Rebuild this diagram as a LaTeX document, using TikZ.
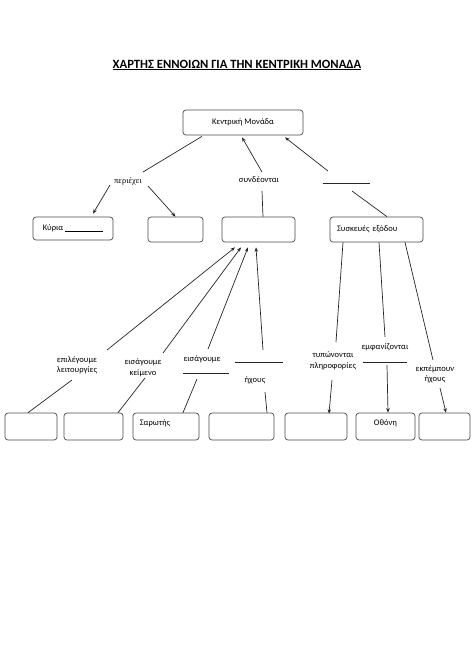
\documentclass[tikz,border=0pt]{standalone}
\usepackage{fontspec}
\setmainfont{Carlito}
\newfontfamily\serifgr{Liberation Serif}
\usetikzlibrary{arrows.meta}
\begin{document}
\begin{tikzpicture}[x=1pt,y=-1pt,
  box/.style={draw=black!70, rounded corners=3pt, line width=0.7pt, inner sep=0pt, font=\fontsize{8.5}{10}\selectfont},
  lbl/.style={font=\fontsize{8.5}{10.5}\selectfont, align=center, inner sep=0pt},
  blank/.style={inner sep=0pt, minimum height=0pt},
  conn/.style={draw=black!85, line width=0.7pt},
  arr/.style={conn, -{Stealth[length=4.5pt,width=3.5pt]}}]
\useasboundingbox[fill=white] (0,0) rectangle (474,670);

% title
\node[inner sep=0pt, font=\fontsize{12.6}{15}\selectfont\bfseries] (title) at (237,65) {\underline{ΧΑΡΤΗΣ ΕΝΝΟΙΩΝ ΓΙΑ ΤΗΝ ΚΕΝΤΡΙΚΗ ΜΟΝΑΔΑ}};

% top box
\node[box, minimum width=120, minimum height=25] (km) at (243,122.5) {Κεντρική Μονάδα};

% level labels
\node[lbl, font=\fontsize{8.5}{10}\selectfont\serifgr] (per) at (128,181) {περιέχει};
\node[lbl] (syn) at (259,180) {συνδέονται};
\node[blank, minimum width=47] (bl1) at (346.5,183) {};
\draw[conn] (bl1.west) -- (bl1.east);

% row 2 boxes
\node[box, minimum width=80, minimum height=23] (kyr) at (73,228.5) {Κύρια \rule[-0.5pt]{38pt}{0.5pt}};
\node[box, minimum width=55, minimum height=25] (b2) at (175.5,229.5) {};
\node[box, minimum width=73, minimum height=25] (b3) at (258.5,229.5) {};
\node[box, minimum width=93, minimum height=25, text width=79, align=left] (sys) at (376.5,229.5) {Συσκευές εξόδου};

% top connectors
\draw[conn] ([shift={(-41,1)}]km.south) -- ([shift={(15,-9)}]per.center);
\draw[arr] ([shift={(-18,4)}]per.center) -- ([shift={(20,-3)}]kyr.north);
\draw[arr] ([shift={(20,5)}]per.center) -- ([shift={(0,0)}]b2.north);
\draw[arr] ([shift={(3,-8)}]syn.center) -- ([shift={(-1,2)}]km.south);
\draw[conn] ([shift={(3,11)}]syn.center) -- ([shift={(4.5,0)}]b3.north);
\draw[arr] ([shift={(-18.5,-12)}]bl1.center) -- ([shift={(42,2)}]km.south);
\draw[conn] ([shift={(5.5,8)}]bl1.center) -- ([shift={(10.5,0)}]sys.north);

% lower labels
\node[lbl] (epi) at (77,365) {επιλέγουμε\\λειτουργίες};
\node[lbl] (kei) at (143,367.5) {εισάγουμε\\κείμενο};
\node[lbl] (eis) at (202,359) {εισάγουμε};
\node[blank, minimum width=46] (bl3) at (206,373) {};
\draw[conn] (bl3.west) -- (bl3.east);
\node[blank, minimum width=48] (bl2) at (259,362) {};
\draw[conn] (bl2.west) -- (bl2.east);
\node[lbl] (ich) at (255,380) {ήχους};
\node[lbl] (typ) at (333,360.5) {τυπώνονται\\πληροφορίες};
\node[lbl] (emf) at (385,347) {εμφανίζονται};
\node[blank, minimum width=44] (bl4) at (385,362) {};
\draw[conn] (bl4.west) -- (bl4.east);
\node[lbl] (ekp) at (435,374) {εκπέμπουν\\ήχους};

% row 3 boxes
\node[box, minimum width=52, minimum height=27] (c1) at (31,426.5) {};
\node[box, minimum width=59, minimum height=27] (c2) at (93.5,426.5) {};
\node[box, minimum width=66, minimum height=27] (c3) at (166,426.5) {};
\node[lbl, anchor=west] (c3t) at ([shift={(7,-3.5)}]c3.west) {Σαρωτής};
\node[box, minimum width=65, minimum height=27] (c4) at (241.5,426.5) {};
\node[box, minimum width=62, minimum height=27] (c5) at (316,426.5) {};
\node[box, minimum width=59, minimum height=27] (c6) at (385.5,426.5) {};
\node[lbl] (c6t) at ([shift={(0,-3.5)}]c6.center) {Οθόνη};
\node[box, minimum width=51, minimum height=27] (c7) at (444.5,426.5) {};

% arrows into b3
\draw[arr] ([shift={(30,-15)}]epi.center) -- ([shift={(-23.5,5)}]b3.south);
\draw[arr] ([shift={(20,-14.5)}]kei.center) -- ([shift={(-17.5,5)}]b3.south);
\draw[arr] ([shift={(6,-10)}]eis.center) -- ([shift={(-10.5,5)}]b3.south);
\draw[arr] ([shift={(4,-12)}]bl2.center) -- ([shift={(-2.5,5)}]b3.south);

% lines down to row 3 (left)
\draw[conn] ([shift={(-5,15)}]epi.center) -- ([shift={(-3,0)}]c1.north);
\draw[conn] ([shift={(2,10.5)}]kei.center) -- ([shift={(24.5,0)}]c2.north);
\draw[conn] ([shift={(-9,6)}]bl3.center) -- ([shift={(17,0)}]c3.north);
\draw[conn] ([shift={(10,12)}]ich.center) -- ([shift={(25.5,0)}]c4.north);

% right side
\draw[conn] ([shift={(-33.5,0)}]sys.south) -- ([shift={(3,-18.5)}]typ.center);
\draw[arr] ([shift={(-1,19.5)}]typ.center) -- ([shift={(13,1)}]c5.north);
\draw[conn] ([shift={(2.5,0)}]sys.south) -- ([shift={(0,-10)}]emf.center);
\draw[arr] ([shift={(2,3)}]bl4.center) -- ([shift={(2.5,0)}]c6.north);
\draw[conn] ([shift={(28.5,0)}]sys.south) -- ([shift={(-2,-14)}]ekp.center);
\draw[arr] ([shift={(5,14)}]ekp.center) -- ([shift={(1.5,0)}]c7.north);
\end{tikzpicture}
\end{document}
